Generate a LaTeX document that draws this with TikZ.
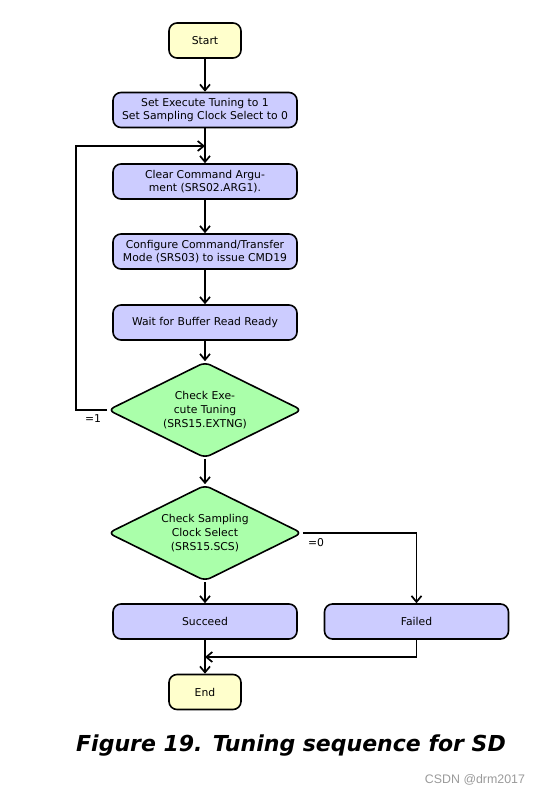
\documentclass[tikz,border=0pt]{standalone}
\usepackage{fontspec}
\setmainfont{DejaVu Sans}[ItalicFont={DejaVu Sans Oblique},BoldItalicFont={DejaVu Sans Bold Oblique}]
\newfontfamily\markfont{Liberation Sans}
\usetikzlibrary{arrows,arrows.meta,shapes}
\usetikzlibrary{calc}
\definecolor{termfill}{HTML}{FFFFCC}
\definecolor{procfill}{HTML}{CCCCFF}
\definecolor{decfill}{HTML}{AAFFAA}
\definecolor{markgray}{HTML}{9A9A9A}
\tikzstyle{terminal}=[rectangle,rounded corners=8pt,draw,line width=1.6pt,fill=termfill,minimum width=72pt,minimum height=35pt,inner sep=0pt,font=\fontsize{10.8}{13.5}\selectfont]
\tikzstyle{process}=[rectangle,rounded corners=8pt,draw,line width=1.6pt,fill=procfill,minimum width=184pt,minimum height=35pt,inner sep=0pt,align=center,font=\fontsize{10.8}{13.4}\selectfont]
\tikzstyle{decision}=[diamond,aspect=2,rounded corners=6pt,draw,line width=1.6pt,fill=decfill,minimum width=194pt,minimum height=96pt,inner sep=0pt,align=center,font=\fontsize{10.8}{13.7}\selectfont]
\tikzstyle{edge} = [draw,line width=1.7pt,-{Straight Barb[length=6pt,width=10pt]}]
\tikzstyle{weight} = [font=\fontsize{10.8}{13}\selectfont]

\begin{document}
\begin{tikzpicture}[x=1pt,y=-1pt]
    \useasboundingbox (0,0) rectangle (541,796);
    % First we draw the boxes
    \foreach \pos/\name/\label in {{(205,40.5)/start/Start}, {(205,692)/finish/End}}
        \node[terminal] (\name) at \pos {\label};
    \foreach \pos/\name/\label in {{(205,110)/setexec/{Set Execute Tuning to 1\\Set Sampling Clock Select to 0}},
                                   {(205,181.5)/clrarg/{Clear Command Argu-\\ment (SRS02.ARG1).}},
                                   {(205,251.5)/cfgmode/{Configure Command/Transfer\\Mode (SRS03) to issue CMD19}},
                                   {(205,322.5)/waitbuf/{Wait for Buffer Read Ready}},
                                   {(205,621.5)/succeed/Succeed}, {(416.5,621.5)/failed/Failed}}
        \node[process] (\name) at \pos {\label};
    \foreach \pos/\name/\label in {{(205,410)/chkexec/{Check Exe-\\cute Tuning\\(SRS15.EXTNG)}},
                                   {(205,533)/chkscs/{Check Sampling\\Clock Select\\(SRS15.SCS)}}}
        \node[decision] (\name) at \pos {\label};

    \coordinate (loopin) at (205,146);
    \coordinate (loopcorner) at (76,146);
    \coordinate (merge) at (205,657);

    % Connect boxes with edges
    \foreach \source/ \dest in {start/setexec, setexec/clrarg, clrarg/cfgmode, cfgmode/waitbuf, waitbuf/chkexec, chkexec/chkscs, chkscs/succeed, succeed/finish}
        \path[edge] (\source) -- (\dest);
    \path[edge] (chkexec.west) -| (loopcorner) -- (loopin);
    \path[edge] (chkscs.east) -| (failed.north);
    \path[edge] (failed.south) |- (merge);

    \node[weight] (eqone) at (93,419) {=1};
    \node[weight] (eqzero) at (316,543) {=0};

    \node (caption) at (291,746) {\fontsize{22}{26}\selectfont\bfseries\itshape Figure 19. Tuning sequence for SD};
    \node[text=markgray,font=\markfont\fontsize{12.4}{14}\selectfont] (mark) at (475,780) {CSDN @drm2017};
\end{tikzpicture}
\end{document}
